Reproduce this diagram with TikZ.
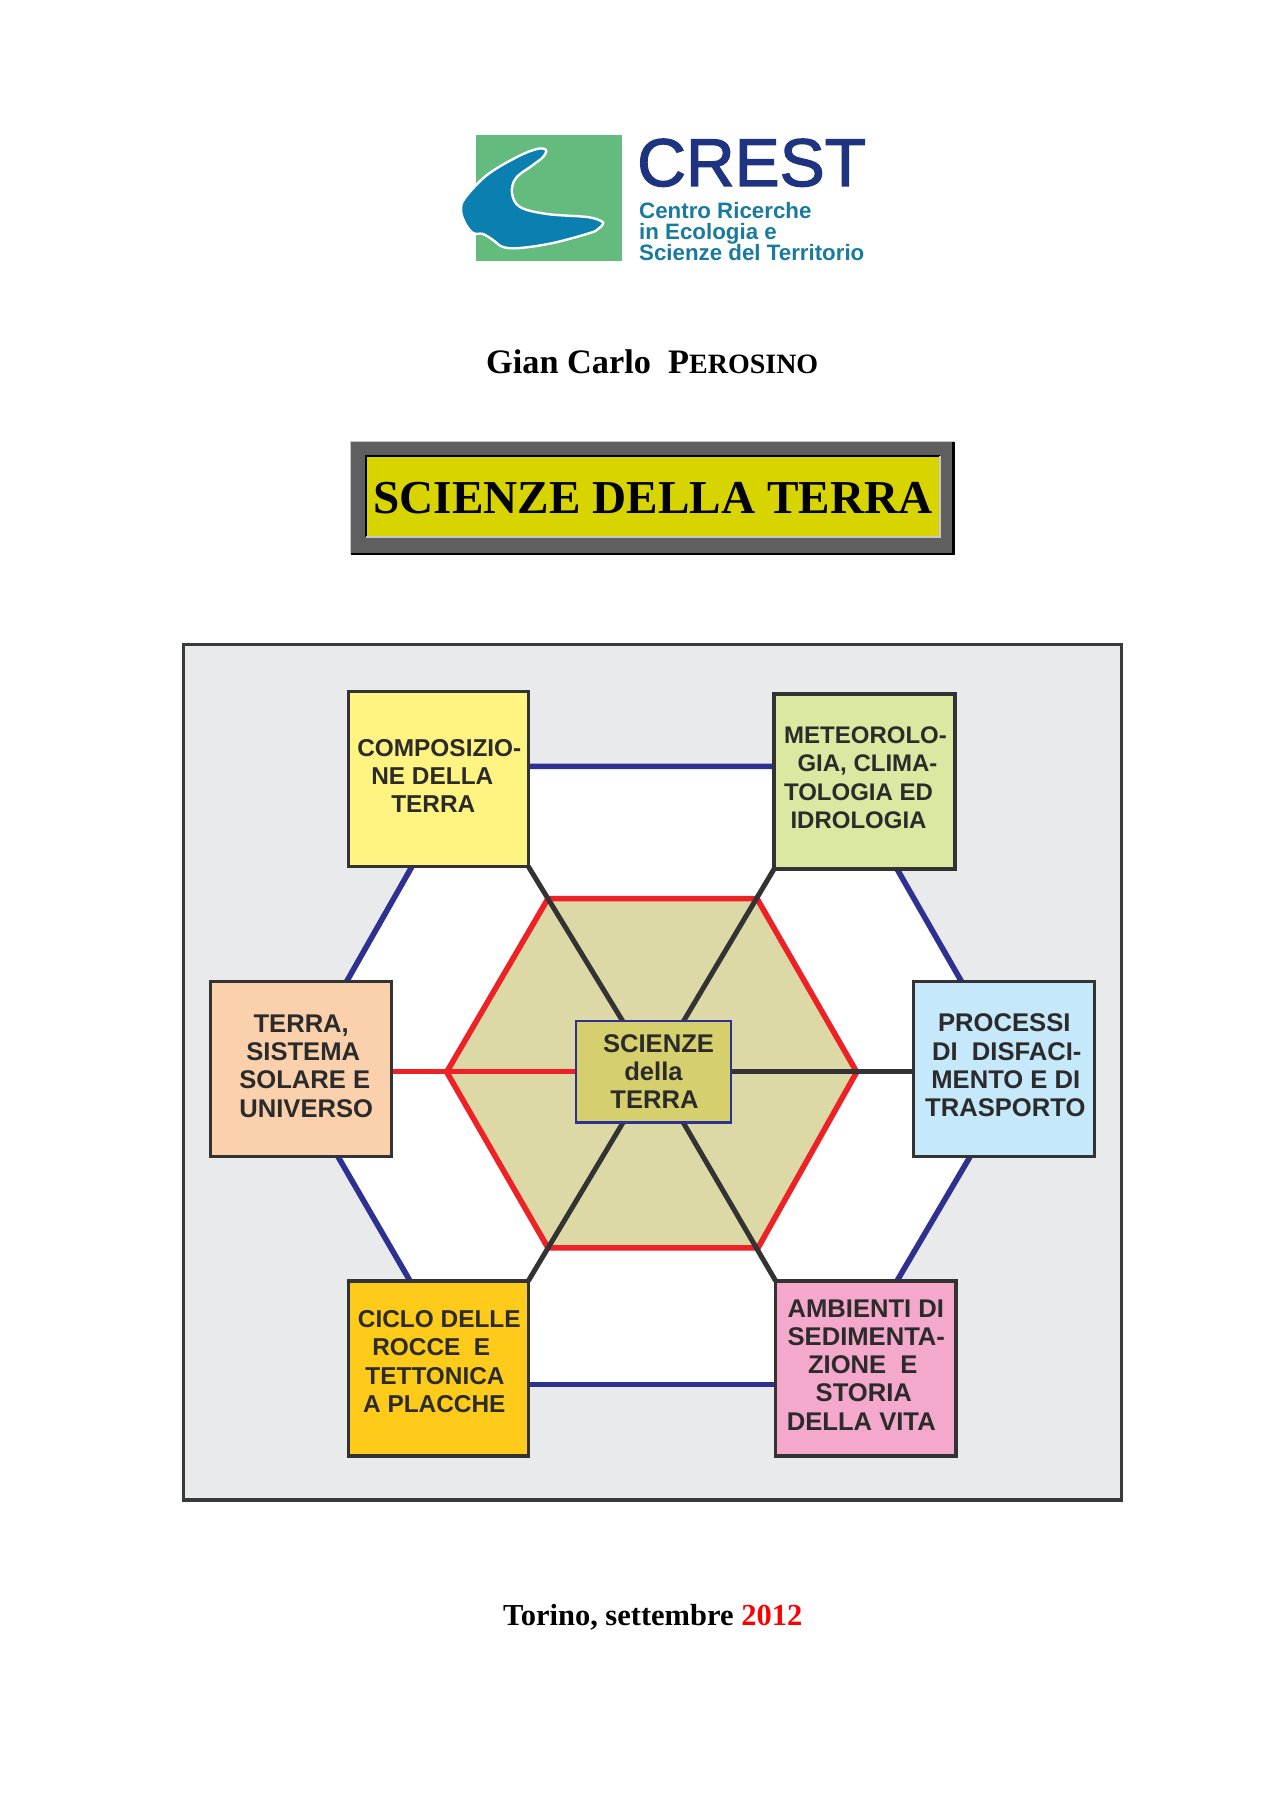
\documentclass[tikz,border=0pt]{standalone}
\usepackage{fontspec}
\setmainfont{Liberation Serif}
\newfontfamily\arialf{Liberation Sans}
\newfontfamily\arialheavy[FakeBold=2]{Liberation Sans}
\usetikzlibrary{calc,backgrounds}
\definecolor{framegray}{HTML}{3A3A3A}
\definecolor{panelgray}{HTML}{E9EAEB}
\definecolor{boxline}{HTML}{333333}
\definecolor{boxtext}{HTML}{2B2B2B}
\definecolor{hexfill}{HTML}{DDD9A6}
\definecolor{hexred}{HTML}{EC2227}
\definecolor{linkblue}{HTML}{2E3192}
\definecolor{cyellow}{HTML}{FFF382}
\definecolor{cgreen}{HTML}{DAE8A2}
\definecolor{cpeach}{HTML}{FBD1AD}
\definecolor{cblue}{HTML}{C6E8FB}
\definecolor{corange}{HTML}{FFCB1B}
\definecolor{cpink}{HTML}{F4A8CB}
\definecolor{ccentre}{HTML}{D6CF6E}
\definecolor{logogreen}{HTML}{63BB7E}
\definecolor{logoblue}{HTML}{0A7FB0}
\definecolor{crestnavy}{HTML}{1E3480}
\definecolor{cresttext}{HTML}{1A7A9E}
\definecolor{titleyellow}{HTML}{D7D400}
\definecolor{titleband}{HTML}{5F5F5F}
\definecolor{bevellight}{HTML}{C8C8C8}
\newcommand\Ln[2]{\leavevmode\kern#1pt\relax #2\kern-#1pt\relax}
\newcommand\Gap[1]{\rule[-#1pt]{0pt}{#1pt}}
\tikzset{
  topic/.style={draw=boxline,line width=3.3pt,outer sep=0pt,inner sep=0pt,
    minimum width=181pt,minimum height=175pt,align=center,text=boxtext,
    font=\arialf\bfseries\fontsize{24.4}{28.2}\selectfont},
  widetext/.style={font=\arialf\bfseries\fontsize{25.6}{28.2}\selectfont},
  hub/.style={topic,widetext,draw=linkblue,line width=2.3pt,minimum width=155.6pt,minimum height=101.8pt},
  bluelink/.style={draw=linkblue,line width=5.6pt},
  spoke/.style={draw=boxline,line width=5pt},
  serifbold/.style={inner sep=0pt,anchor=base west,font=\bfseries}
}
\begin{document}
\begin{tikzpicture}[x=1pt,y=-1pt]
\useasboundingbox (0,0) rectangle (1280,1811);
% --- logo ---
\fill[logogreen] (476,135) rectangle (622,261);
\draw[white,line width=2.4pt,fill=logoblue] plot[smooth cycle,tension=0.6] coordinates {
 (546,150) (543,157) (533,165) (516,178) (512,193) (520,207) (547,214) (587,217) (601,221) (603,224) (598,229)
 (590,233) (553,243) (520,248) (503,247) (493,240) (483,234) (473,233) (465,223)
 (461,210) (465,198) (487,175) (517,157) (537,149)};
\node[inner sep=0pt,anchor=base west,text=crestnavy,font=\arialheavy\fontsize{67.5}{68}\selectfont] (crest) at (637,186) {CREST};
\node[inner sep=0pt,anchor=west,align=left,text=cresttext,font=\arialf\bfseries\fontsize{22.3}{21.4}\selectfont] (cresttxt) at (639,231.5)
  {Centro Ricerche\\in Ecologia e\\Scienze del Territorio};
% --- author ---
\node[serifbold,font=\bfseries\fontsize{34.3}{36}\selectfont] (author) at (486,373)
  {Gian Carlo\ \ P{\fontsize{28}{30}\selectfont EROSINO}};
% --- title ---
\node[fill=titleband,outer sep=0pt,inner sep=0pt,minimum width=603pt,minimum height=112.3pt] (titleband) at (652,497.8) {};
\node[fill=titleyellow,outer sep=0pt,inner sep=0pt,minimum width=574.7pt,minimum height=81pt,
  font=\bfseries\fontsize{47.2}{54}\selectfont,text=black] (title) at (653,496.5) {\rule{0pt}{35pt}SCIENZE DELLA TERRA};
\draw[bevellight,line width=1.6pt] (titleband.south west) -- (titleband.north west) -- (titleband.north east);
\draw[black,line width=2.4pt] (titleband.south west) -- (titleband.south east) -- (titleband.north east);
\draw[black,line width=2pt] (title.south west) -- (title.north west) -- (title.north east);
\draw[bevellight,line width=2pt] (title.south west) -- (title.south east) -- (title.north east);
% --- boxes ---
\node[topic,fill=cyellow,minimum width=180pt] (compos) at (438.3,778.9) {\Ln{1}{COMPOSIZIO-}\\\Ln{-6}{NE DELLA}\\\Ln{-5}{TERRA}\Gap{6}};
\node[topic,fill=cgreen,font=\arialf\bfseries\fontsize{24}{28.2}\selectfont] (meteo) at (864.5,781.6) {\Ln{1}{METEOROLO-}\\\Ln{3}{GIA, CLIMA-}\\\Ln{-6}{TOLOGIA ED}\\\Ln{-6}{IDROLOGIA}\Gap{8}};
\node[topic,widetext,fill=cpeach] (terra) at (301.2,1069) {TERRA,\\\Ln{2}{SISTEMA}\\\Ln{3.5}{SOLARE E}\\\Ln{5}{UNIVERSO}\Gap{6}};
\node[topic,widetext,fill=cblue] (processi) at (1003.8,1069.3) {\Ln{0.5}{PROCESSI}\\\Ln{3}{DI\ \ DISFACI-}\\\Ln{2}{MENTO E DI}\\\Ln{1.5}{TRASPORTO}\Gap{8}};
\node[topic,fill=corange,minimum width=180pt] (ciclo) at (438.3,1368.4) {\Ln{1}{CICLO DELLE}\\\Ln{-7}{ROCCE\ \ E}\\\Ln{-3.3}{TETTONICA}\\\Ln{-4}{A PLACCHE}\Gap{14}};
\node[topic,widetext,fill=cpink,minimum width=180.3pt] (ambienti) at (865.8,1368.4) {AMBIENTI DI\\\Ln{0.5}{SEDIMENTA-}\\\Ln{-3}{ZIONE\ \ E}\\\Ln{-2}{STORIA}\\\Ln{-4.5}{DELLA VITA}\Gap{7}};
\node[hub,fill=ccentre] (centre) at (653.5,1071.6) {\Ln{5}{SCIENZE}\\\Ln{0}{della}\\\Ln{1}{TERRA}};
% --- footer ---
\node[serifbold,font=\bfseries\fontsize{30.5}{34}\selectfont] (place) at (503,1625)
  {Torino, settembre \textcolor{red}{2012}};
% --- panel, hexagons, connectors behind the boxes ---
\begin{scope}[on background layer]
  \draw[framegray,line width=3.2pt,fill=panelgray] (183.5,644.3) rectangle (1121.7,1500);
  \fill[white] (468,766) -- (838,766) -- (1016,1072) -- (836,1384) -- (470,1384) -- (292,1072) -- cycle;
  \draw[hexred,line width=5.6pt,fill=hexfill] (446.7,1072) -- (548,898.6) -- (757,898.6) -- (856.7,1072) -- (758,1247.9) -- (548,1247.9) -- cycle;
  \draw[bluelink] ($(compos.north east)!0.4286!(compos.south east)$) -- ($(meteo.north west)!0.413!(meteo.south west)$);
  \draw[bluelink] ($(ciclo.north east)!0.591!(ciclo.south east)$) -- ($(ambienti.north west)!0.591!(ambienti.south west)$);
  \draw[bluelink] ($(compos.south west)!0.354!(compos.south east)$) -- ($(terra.north west)!0.751!(terra.north east)$);
  \draw[bluelink] ($(terra.south west)!0.703!(terra.south east)$) -- ($(ciclo.north west)!0.343!(ciclo.north east)$);
  \draw[bluelink] ($(meteo.south west)!0.68!(meteo.south east)$) -- ($(processi.north west)!0.267!(processi.north east)$);
  \draw[bluelink] ($(processi.south west)!0.313!(processi.south east)$) -- ($(ambienti.north west)!0.673!(ambienti.north east)$);
  \draw[hexred,line width=4.6pt] (terra.east |- centre) -- (centre.west);
  \draw[boxline,line width=4.6pt] (centre.east) -- (processi.west |- centre);
  \draw[spoke] (compos.south east) -- (centre.center);
  \draw[spoke] (meteo.south west) -- (centre.center);
  \draw[spoke] (ciclo.north east) -- (centre.center);
  \draw[spoke] (ambienti.north west) -- (centre.center);
\end{scope}
\end{tikzpicture}
\end{document}
